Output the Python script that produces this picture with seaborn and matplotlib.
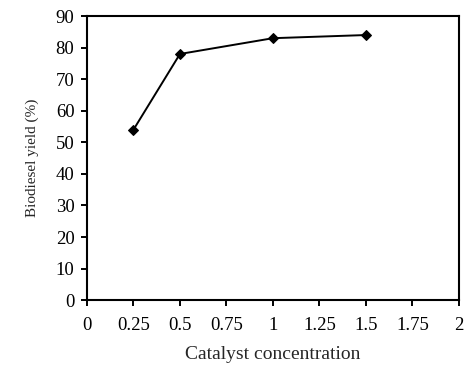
#!/usr/bin/env python3
"""Biodiesel yield vs catalyst concentration"""

import pandas as pd
import matplotlib
matplotlib.use('Agg')
import matplotlib.pyplot as plt
import seaborn as sns

# data
catalyst = [0.25, 0.5, 1.0, 1.5]
yield_pct = [54, 78, 83, 84]
x_ticks = [0, 0.25, 0.5, 0.75, 1, 1.25, 1.5, 1.75, 2]
x_tick_labels = ['0', '0.25', '0.5', '0.75', '1', '1.25', '1.5', '1.75', '2']
y_ticks = list(range(0, 91, 10))

df = pd.DataFrame({'catalyst': catalyst, 'yield': yield_pct})

sns.set_style("ticks")
plt.rcParams['font.family'] = ['Liberation Serif', 'DejaVu Serif']

fig = plt.figure(figsize=(4.74, 3.66), dpi=100)
ax = fig.add_axes([0.1835, 0.180, 0.7845, 0.776])

sns.lineplot(data=df, x='catalyst', y='yield', ax=ax, color='black',
             linewidth=1.4, marker='D', markersize=5, markeredgecolor='black',
             markerfacecolor='black')

ax.set_xlim(0, 2)
ax.set_ylim(0, 90)
ax.set_xticks(x_ticks)
ax.set_xticklabels(x_tick_labels)
ax.set_yticks(y_ticks)
ax.tick_params(axis='both', direction='out', length=4, width=1.4,
               labelsize=13.5, colors='black', pad=5)
ax.tick_params(axis='x', pad=8)

for side in ['left', 'bottom', 'top', 'right']:
    ax.spines[side].set_visible(True)
    ax.spines[side].set_color('black')
    ax.spines[side].set_linewidth(1.5)

ax.set_xlabel('Catalyst concentration', fontsize=14, labelpad=9)
ax.set_ylabel('Biodiesel yield (%)', fontsize=11, labelpad=12)

fig.savefig('out.png', dpi=100, facecolor='white')
plt.close(fig)
